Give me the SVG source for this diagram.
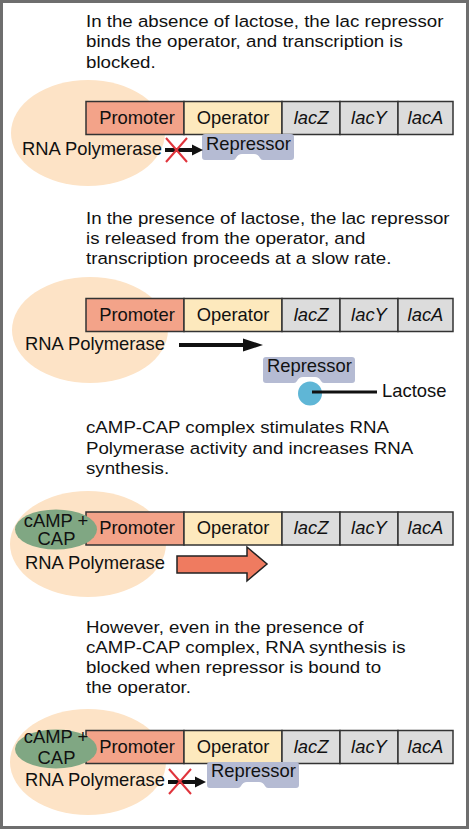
<svg xmlns="http://www.w3.org/2000/svg" width="469" height="829" viewBox="0 0 469 829">
<style>
text{font-family:"Liberation Sans",Arial,sans-serif;fill:#111}
.desc{font-size:17px}
.lbl{font-size:18.4px}
.it{font-style:italic}
.mid{text-anchor:middle}
.poly{fill:#fde3c6}
.prom{fill:#f3a389;stroke:#333;stroke-width:1.5}
.oper{fill:#fde9bd;stroke:#333;stroke-width:1.5}
.gene{fill:#dcdcdc;stroke:#333;stroke-width:1.5}
.rep{fill:#b5bbd3}
.cap{fill:#80a783}
.blk{stroke:#111;stroke-width:4}
.x{stroke:#e0343c;stroke-width:2}
</style>
<defs>
<path id="repShape" d="M3,0 H89 Q92,0 92,3 V23 Q92,26 89,26 H61 Q59,26 58,24 Q56,20 52,20 H40 Q36,20 34,24 Q33,26 31,26 H3 Q0,26 0,23 V3 Q0,0 3,0 Z"/>
<g id="dna">
<rect class="prom" x="0" y="0" width="98" height="33"/>
<rect class="oper" x="98" y="0" width="98" height="33"/>
<rect class="gene" x="196" y="0" width="58" height="33"/>
<rect class="gene" x="254" y="0" width="58" height="33"/>
<rect class="gene" x="312" y="0" width="55" height="33"/>
<text class="lbl mid" x="51" y="22">Promoter</text>
<text class="lbl mid" x="147" y="22">Operator</text>
<text class="lbl mid it" x="225" y="22">lacZ</text>
<text class="lbl mid it" x="283" y="22">lacY</text>
<text class="lbl mid it" x="339.5" y="22">lacA</text>
</g>
</defs>
<rect x="0" y="0" width="469" height="829" fill="#fff"/>
<rect x="1.5" y="1.5" width="466" height="826" fill="none" stroke="#6e6e6e" stroke-width="3"/>

<!-- Panel 1 -->
<g id="text1" transform="translate(86,0) scale(1.1,1)">
<text class="desc" x="0" y="27">In the absence of lactose, the lac repressor</text>
<text class="desc" x="0" y="47.5">binds the operator, and transcription is</text>
<text class="desc" x="0" y="68">blocked.</text>
</g>
<g id="polymerase1">
<ellipse class="poly" cx="88" cy="133" rx="77" ry="53"/>
</g>
<g id="dna1"><use href="#dna" x="86" y="101.5"/></g>
<g id="polylabel1"><text class="lbl" x="22" y="155">RNA Polymerase</text></g>
<g id="repressor1">
<use href="#repShape" class="rep" x="202" y="134"/>
<text class="lbl" x="206" y="150">Repressor</text>
</g>

<!-- Panel 2 -->
<g id="text2" transform="translate(86,0) scale(1.1,1)">
<text class="desc" x="0" y="224">In the presence of lactose, the lac repressor</text>
<text class="desc" x="0" y="244.3">is released from the operator, and</text>
<text class="desc" x="0" y="264.5">transcription proceeds at a slow rate.</text>
</g>
<g id="polymerase2">
<ellipse class="poly" cx="90" cy="330" rx="78" ry="53"/>
</g>
<g id="dna2"><use href="#dna" x="86" y="298.5"/></g>
<g id="polylabel2"><text class="lbl" x="25" y="350">RNA Polymerase</text></g>
<g id="repressor2">
<use href="#repShape" class="rep" x="263" y="357"/>
<text class="lbl" x="267" y="372">Repressor</text>
</g>
<g id="lactose">
<circle cx="310" cy="393.5" r="12" fill="#5fb6d6"/>
<text class="lbl" x="382" y="396.5">Lactose</text>
</g>

<!-- Panel 3 -->
<g id="text3" transform="translate(86,0) scale(1.1,1)">
<text class="desc" x="0" y="433.5">cAMP-CAP complex stimulates RNA</text>
<text class="desc" x="0" y="453.7">Polymerase activity and increases RNA</text>
<text class="desc" x="0" y="474">synthesis.</text>
</g>
<g id="polymerase3">
<ellipse class="poly" cx="88" cy="544" rx="78" ry="53"/>
</g>
<g id="dna3"><use href="#dna" x="86" y="512"/></g>
<g id="cap3">
<ellipse class="cap" cx="56" cy="529.5" rx="41" ry="20"/>
<text class="lbl mid" x="56" y="527">cAMP +</text>
<text class="lbl mid" x="56.5" y="544.5">CAP</text>
</g>
<g id="polylabel3"><text class="lbl" x="25" y="568.5">RNA Polymerase</text></g>

<!-- Panel 4 -->
<g id="text4" transform="translate(86,0) scale(1.1,1)">
<text class="desc" x="0" y="633">However, even in the presence of</text>
<text class="desc" x="0" y="653">cAMP-CAP complex, RNA synthesis is</text>
<text class="desc" x="0" y="673.3">blocked when repressor is bound to</text>
<text class="desc" x="0" y="693.5">the operator.</text>
</g>
<g id="polymerase4">
<ellipse class="poly" cx="88" cy="762" rx="78" ry="53"/>
</g>
<g id="dna4"><use href="#dna" x="86" y="730.5"/></g>
<g id="cap4">
<ellipse class="cap" cx="56" cy="749" rx="41" ry="19.5"/>
<text class="lbl mid" x="56" y="743">cAMP +</text>
<text class="lbl mid" x="56.5" y="763.5">CAP</text>
</g>
<g id="polylabel4"><text class="lbl" x="25" y="786">RNA Polymerase</text></g>
<g id="repressor4">
<use href="#repShape" class="rep" x="207" y="762"/>
<text class="lbl" x="211" y="777">Repressor</text>
</g>

<!-- Connectors -->
<g id="connectors">
<line class="blk" x1="165" y1="150" x2="193" y2="150"/>
<polygon points="192,144.5 203,150 192,155.5" fill="#111"/>
<line class="x" x1="166" y1="138" x2="187" y2="162"/>
<line class="x" x1="187" y1="138" x2="166" y2="162"/>

<line class="blk" x1="179" y1="345" x2="244" y2="345"/>
<polygon points="243,338.5 263,345 243,351.5" fill="#111"/>
<line x1="312" y1="392" x2="377" y2="392" stroke="#111" stroke-width="3"/>

<polygon points="177,556 247,556 247,547 267,564 247,581 247,573 177,573" fill="#ef7b60" stroke="#222" stroke-width="1.5"/>

<line class="blk" x1="168" y1="782" x2="196" y2="782"/>
<polygon points="195,776.5 206,782 195,787.5" fill="#111"/>
<line class="x" x1="169" y1="769" x2="191" y2="794"/>
<line class="x" x1="191" y1="769" x2="169" y2="794"/>
</g>
</svg>
